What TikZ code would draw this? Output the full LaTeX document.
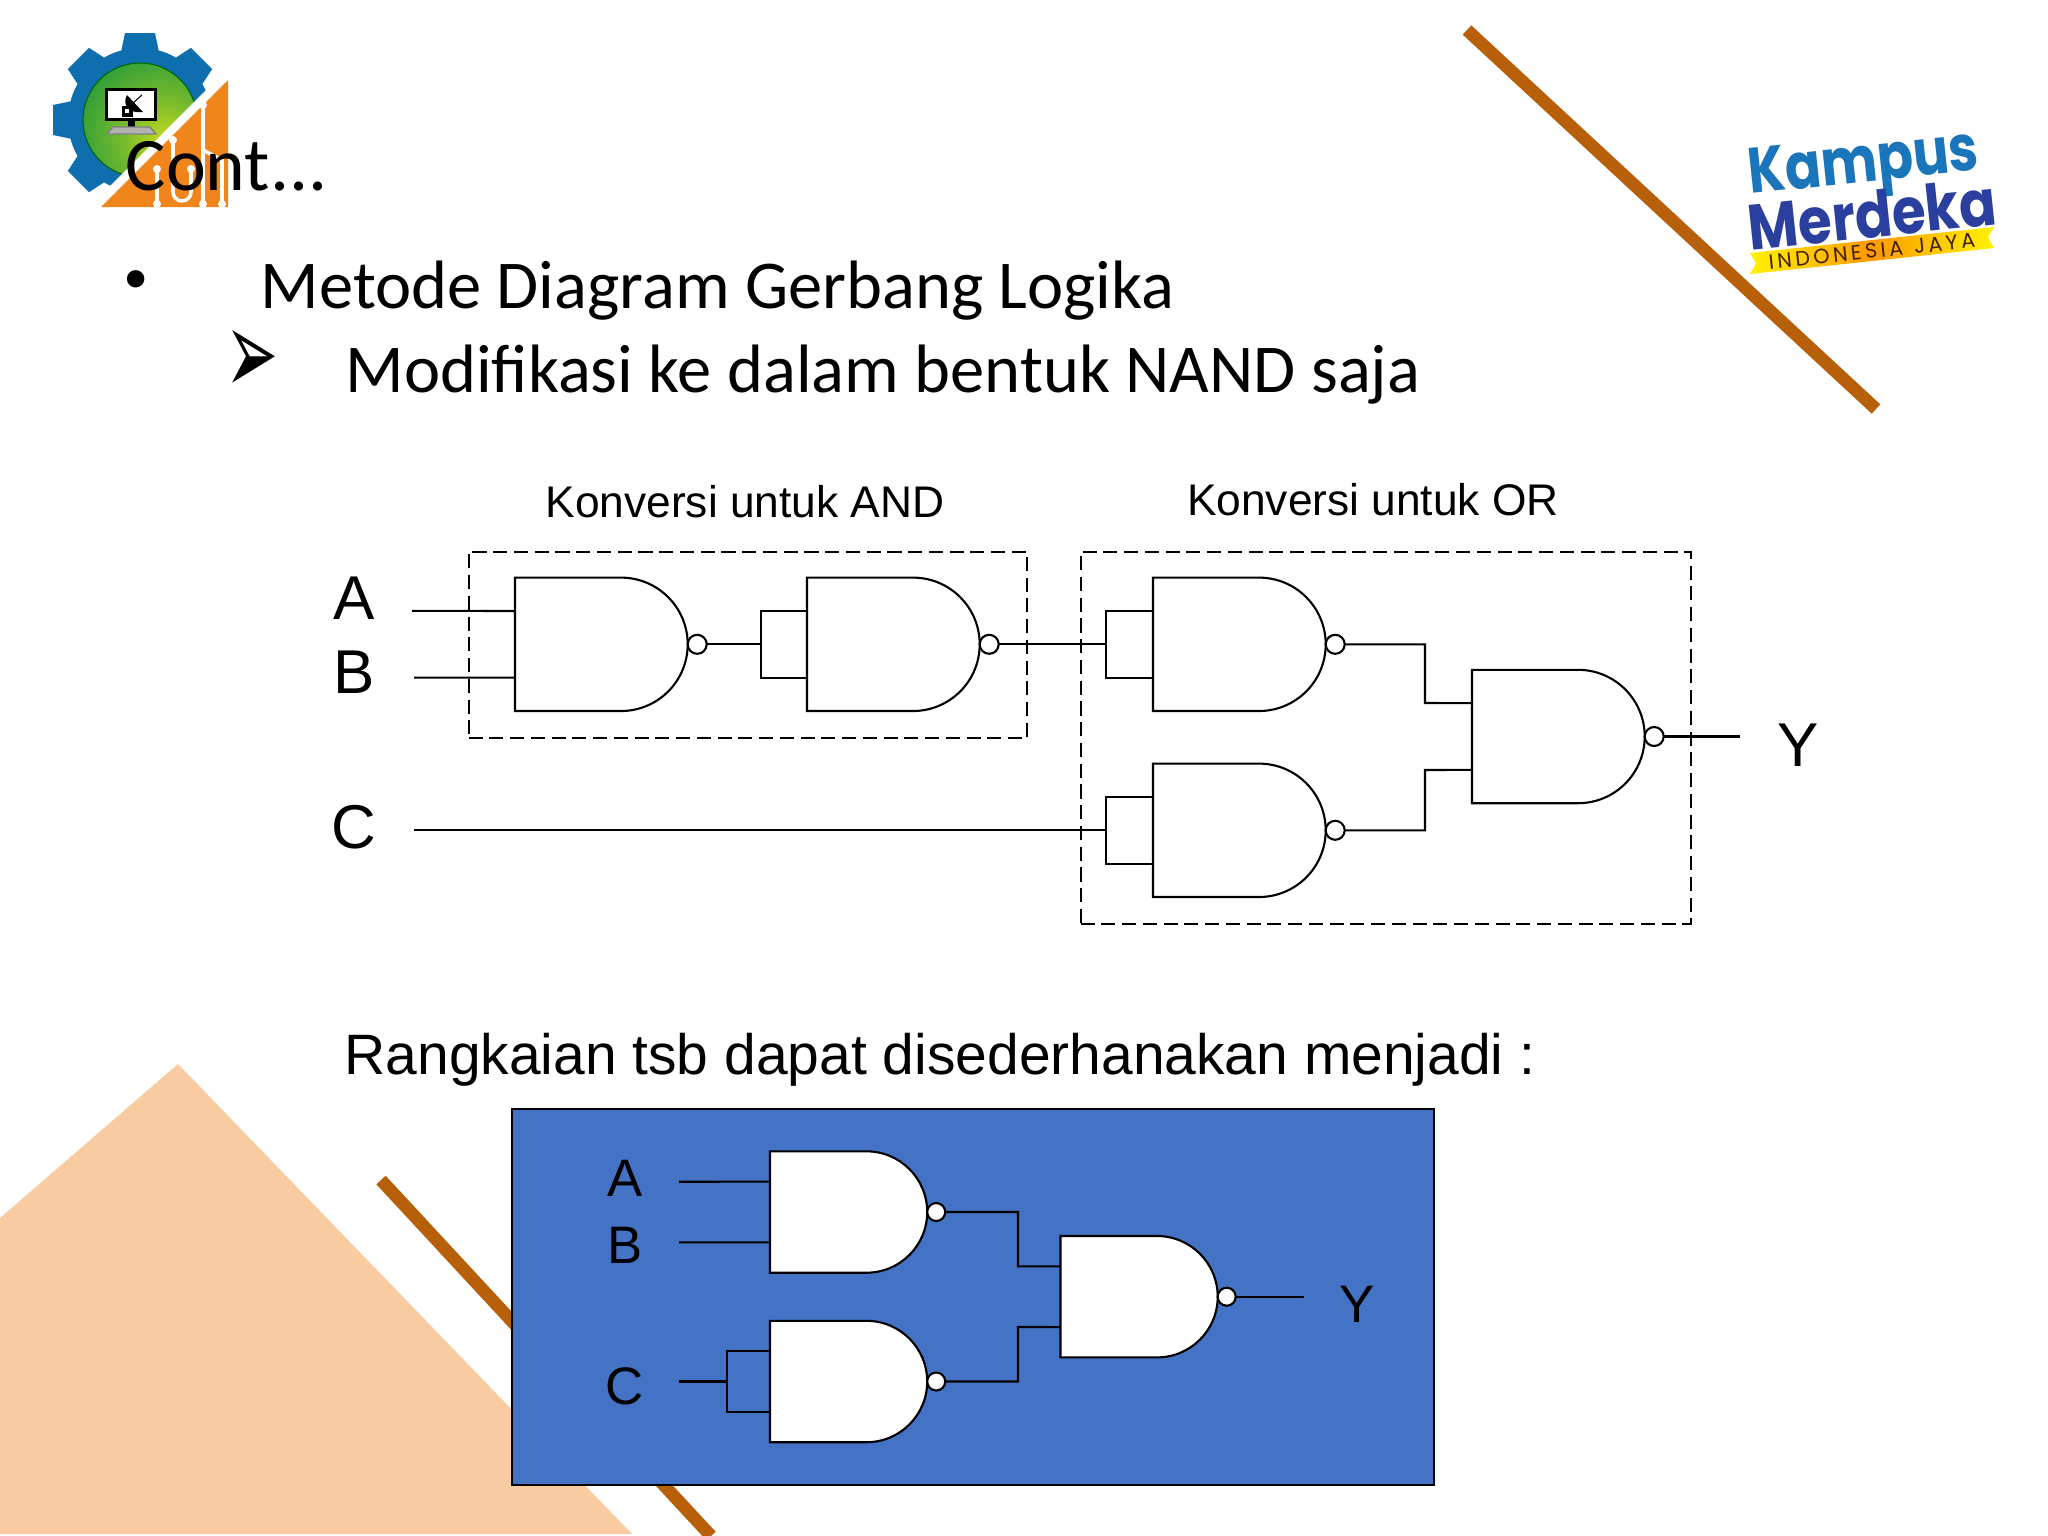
\documentclass[tikz,border=0pt]{standalone}
\usepackage{fontspec}
\setmainfont{Carlito}
\setsansfont{Liberation Sans}
\newfontfamily\logofont{Poppins}
\newfontfamily\symfont{DejaVu Sans}
\usetikzlibrary{calc}

\definecolor{slidebrown}{HTML}{B85F0A}
\definecolor{slidepeach}{HTML}{F9CBA0}
\definecolor{slideblue}{HTML}{4472C4}
\definecolor{gearblue}{HTML}{0F6FAE}
\definecolor{logoorange}{HTML}{F0851C}
\definecolor{kampusblue}{HTML}{1B75BB}
\definecolor{merdekablue}{HTML}{2B3F9E}
\definecolor{glowin}{HTML}{CBDC20}
\definecolor{glowout}{HTML}{2F9E38}

\pgfdeclareradialshading{greenglow}{\pgfpoint{12bp}{-10bp}}{color(0bp)=(glowin); color(16bp)=(glowin!50!glowout); color(36bp)=(glowout); color(100bp)=(glowout)}

\tikzset{
    gatebody/.style={inner sep=0pt, outer sep=0pt},
    gateline/.style={draw=black, fill=white, line width=0.6pt},
    notdot/.style={circle, draw=black, fill=white, line width=0.6pt, inner sep=0pt, outer sep=0pt},
    wire/.style={line width=0.6pt},
    dashbox/.style={draw=black, line width=0.6pt, dash pattern=on 4pt off 1.9pt, inner sep=0pt, anchor=north west},
    sidetext/.style={font=\sffamily\fontsize{#1}{#1}\selectfont, inner sep=0pt, anchor=base},
    slidetext/.style={font=\fontsize{#1}{#1}\selectfont, inner sep=0pt, anchor=base west}
}

% name, left x, middle y, straight part, radius, dot radius
\newcommand{\nandgate}[6]{
    \node[gatebody, minimum width={(#4+#5)*0.01cm}, minimum height={2*#5*0.01cm}, anchor=west] (#1) at (#2,#3) {};
    \draw[gateline] (#1.north west) -- ++(#4,0) arc (-90:90:#5) -- (#1.south west) -- cycle;
    \node[notdot, minimum size={2*#6*0.01cm}, anchor=west] (#1o) at (#1.east) {};
    \coordinate (#1a) at ($(#1.north west)!0.25!(#1.south west)$);
    \coordinate (#1b) at ($(#1.north west)!0.75!(#1.south west)$);
}

\begin{document}
\begin{tikzpicture}[x=0.01cm, y=-0.01cm]
    \useasboundingbox (0,0) rectangle (2048,1536);
    \fill[white] (0,0) rectangle (2048,1536);

    % slide decoration
    \fill[slidepeach] (178,1064) -- (0,1218) -- (0,1534) -- (632,1534) -- cycle;
    \draw[slidebrown, line width=3.6pt] (381,1180) -- (711,1536);
    \draw[slidebrown, line width=3.6pt] (1467,30) -- (1876,409);

    % left logo
    \foreach \ang in {-90,-45,...,225} {
        \fill[gearblue] ($(140,120)+(\ang:68)+(\ang+90:19)$) -- ($(140,120)+(\ang:87)+(\ang+90:15)$) -- ($(140,120)+(\ang:87)+(\ang-90:15)$) -- ($(140,120)+(\ang:68)+(\ang-90:19)$) -- cycle;
    }
    \fill[gearblue] (140,120) circle (72);
    \shade[shading=greenglow] (140,120) circle (57);
    \draw[black!60!green, line width=0.3pt] (140,120) circle (57);
    \fill[black] (105,88) rectangle (157,121);
    \fill[white] (108,91) rectangle (154,118);
    \fill[black] (128,121) rectangle (135,127);
    \fill[black!30, draw=black!50] (113,127) -- (150,127) -- (156,134) -- (107,134) -- cycle;
    \fill[black] (127,95) -- (143,112) .. controls (128,114) and (122,104) .. cycle;
    \draw[black, line width=0.3pt] (133,103) -- (142,95);
    \fill[black] (122,106) rectangle (133,117);
    \fill[white] (125,109) rectangle (129,113);
    \fill[white] (89,207) -- (228,68) -- (240,68) -- (240,220) -- (89,220) -- cycle;
    \fill[logoorange] (101,207) -- (228,80) -- (228,207) -- cycle;
    \draw[white, line width=1pt] (157,207) -- (157,169);
    \draw[white, line width=1pt] (173,140) -- (173,192) arc (180:0:9) -- (191,169);
    \draw[white, line width=1pt] (203,207) -- (203,105);
    \draw[white, line width=1pt] (222,207) -- (222,160) -- (203,150);
    \foreach \px/\py in {157/169,157/204,173/140,191/169,203/204,222/204,203/105} {
        \fill[white] (\px,\py) circle (4);
    }

    % right logo
    \shade[left color=yellow!90!orange, right color=yellow!90!orange, middle color=orange!80!yellow] (1750,253) -- (1994,227) -- (1988,237) -- (1994,248) -- (1750,274) -- (1756,263) -- cycle;
    \node[font=\logofont\bfseries\fontsize{18.2}{18.2}\selectfont, text=kampusblue, inner sep=0pt, rotate=6] (kampus) at (1864,168) {\scalebox{0.83}[1]{Kampus}};
    \node[font=\logofont\bfseries\fontsize{18.2}{18.2}\selectfont, text=merdekablue, inner sep=0pt, rotate=6] (merdeka) at (1872,214) {\scalebox{0.855}[1]{Merdeka}};
    \node[font=\logofont\fontsize{5.9}{5.9}\selectfont, text=black!75!orange, inner sep=0pt, rotate=6] (jaya) at (1872,251) {I\,N\,D\,O\,N\,E\,S\,I\,A\ \ J\,A\,Y\,A};

    % slide text
    \node[slidetext=21.5, text=black] (title) at (125,190) {Cont...};
    \node[slidetext=17] (dot) at (118,301) {\symfont •};
    \node[slidetext=19.47] (line1) at (260,308) {Metode Diagram Gerbang Logika};
    \node[slidetext=18, yscale=1.9, transform shape] (arrowdot) at (225,394) {\symfont ➢};
    \node[slidetext=19.47] (line2) at (345,392) {Modifikasi ke dalam bentuk NAND saja};

    % circuit with five gates
    \node[dashbox, minimum width=5.585cm, minimum height=1.866cm] (andbox) at (467.5,550.5) {};
    \node[dashbox, minimum width=6.10cm, minimum height=3.72cm] (orbox) at (1079.5,550.5) {};
    \node[sidetext=12.6] (andtext) at (745,517) {Konversi untuk AND};
    \node[sidetext=12.6] (ortext) at (1373,515) {Konversi untuk OR};
    \node[sidetext=17.6] (ina) at (354,619) {A};
    \node[sidetext=17.6] (inb) at (354,693) {B};
    \node[sidetext=17.6] (inc) at (354,848) {C};
    \node[sidetext=17.6] (outy) at (1798,766) {Y};

    \nandgate{gone}{515}{644.3}{106}{66.7}{9.5}
    \nandgate{gtwo}{807}{644.3}{106}{66.7}{9.5}
    \nandgate{gthree}{1153}{644.3}{106}{66.7}{9.5}
    \nandgate{gfour}{1153}{830.3}{106}{66.7}{9.5}
    \nandgate{gfive}{1472}{736.5}{106}{66.7}{9.5}

    \coordinate (starta) at (412,610.9);
    \coordinate (startb) at (414,677.6);
    \coordinate (startc) at (414,830.3);
    \coordinate (rungtwo) at (761,644.3);
    \coordinate (rungthree) at (1106,644.3);
    \coordinate (rungfour) at (1106,830.3);
    \coordinate (bendthree) at (1425,703);
    \coordinate (bendfour) at (1425,770);
    \coordinate (endy) at (1740,736.5);

    \draw[wire] (starta) -- (gonea);
    \draw[wire] (startb) -- (goneb);
    \draw[wire] (goneo.east) -- (rungtwo);
    \draw[wire] (gtwoa) -| (rungtwo) |- (gtwob);
    \draw[wire] (gtwoo.east) -- (rungthree);
    \draw[wire] (gthreea) -| (rungthree) |- (gthreeb);
    \draw[wire] (startc) -- (rungfour);
    \draw[wire] (gfoura) -| (rungfour) |- (gfourb);
    \draw[wire] (gthreeo.east) -| (bendthree) -- (gfivea);
    \draw[wire] (gfouro.east) -| (bendfour) -- (gfiveb);
    \draw[wire] (gfiveo.east) -- (endy);

    \node[sidetext=16.2] (simple) at (940,1074) {Rangkaian tsb dapat disederhanakan menjadi :};

    % simplified circuit
    \node[draw=black, fill=slideblue, line width=0.6pt, inner sep=0pt, anchor=north west, minimum width=9.21cm, minimum height=3.76cm] (bluebox) at (511,1108) {};
    \node[sidetext=15] (sina) at (625,1196) {A};
    \node[sidetext=15] (sinb) at (625,1263) {B};
    \node[sidetext=15] (sinc) at (625,1404) {C};
    \node[sidetext=15] (souty) at (1357,1322) {Y};

    \nandgate{sone}{770}{1212}{96.5}{60.7}{9}
    \nandgate{stwo}{770}{1381.5}{96.5}{60.7}{9}
    \nandgate{sthree}{1060.5}{1296.7}{96.5}{60.7}{9}

    \coordinate (sstarta) at (679,1181.7);
    \coordinate (sstartb) at (679,1242.3);
    \coordinate (sstartc) at (679,1381.5);
    \coordinate (srung) at (727,1381.5);
    \coordinate (sbendone) at (1018,1266.3);
    \coordinate (sbendtwo) at (1018,1327);
    \coordinate (sendy) at (1304,1296.7);

    \draw[wire] (sstarta) -- (sonea);
    \draw[wire] (sstartb) -- (soneb);
    \draw[wire] (sstartc) -- (srung);
    \draw[wire] (stwoa) -| (srung) |- (stwob);
    \draw[wire] (soneo.east) -| (sbendone) -- (sthreea);
    \draw[wire] (stwoo.east) -| (sbendtwo) -- (sthreeb);
    \draw[wire] (sthreeo.east) -- (sendy);
\end{tikzpicture}
\end{document}
